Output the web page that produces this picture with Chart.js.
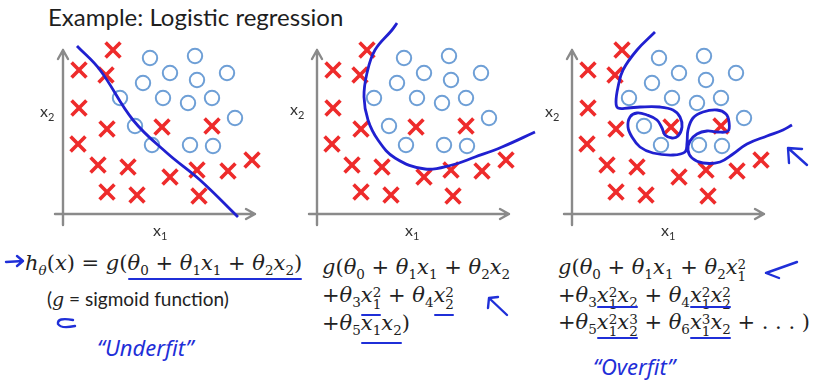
<!DOCTYPE html>
<html>
<head>
<meta charset="utf-8">
<script src="https://cdn.jsdelivr.net/npm/chart.js@4.4.1/dist/chart.umd.min.js"></script>
<style>
  html,body{margin:0;padding:0;background:#fff;}
  #root{position:relative;width:825px;height:386px;overflow:hidden;background:#fff;}
  canvas{position:absolute;}
  .t{position:absolute;white-space:nowrap;}
  .title{font-family:Lato,"Open Sans",sans-serif;font-size:24px;color:#1e1e1e;left:48px;top:2px;}
  .ax{font-family:Lato,"Open Sans",sans-serif;font-size:16px;color:#333;line-height:16px;}
  .ax sub{font-size:11px;vertical-align:-4px;line-height:0;}
  .m{font-family:"DejaVu Serif","Liberation Serif",serif;font-size:21px;color:#222;line-height:28px;}
  .m i{font-style:italic;}
  .m sub{font-size:13.5px;vertical-align:-5px;line-height:0;}
  .ss{display:inline-block;font-size:13.5px;line-height:12px;vertical-align:-7px;text-align:left;}
  .ss span{display:block;}
  .ul{position:relative;}
  .ul::after{content:"";position:absolute;left:0;right:0;bottom:-9px;height:2.4px;background:#1f2fd8;border-radius:2px;}
  .ul.u1::after{bottom:-5px;}
  .ul.u3a::after{bottom:-1px;}
  .ul.u3b::after{bottom:-5px;}
  .sans{font-family:Lato,"Open Sans",sans-serif;font-size:19px;color:#222;}
  .ink{font-family:"Noto Sans","DejaVu Sans",sans-serif;font-style:italic;color:#1f2fd8;font-size:22px;}
  svg{position:absolute;left:0;top:0;}
</style>
</head>
<body>
<div id="root">
  <div class="t title">Example: Logistic regression</div>

  <canvas id="c1" width="250" height="220" style="left:43px;top:14px;width:250px;height:220px"></canvas>
  <canvas id="c2" width="250" height="220" style="left:297px;top:14px;width:250px;height:220px"></canvas>
  <canvas id="c3" width="250" height="220" style="left:552px;top:14px;width:250px;height:220px"></canvas>

  <div class="t ax" style="left:40px;top:103px">x<sub>2</sub></div>
  <div class="t ax" style="left:153px;top:222px">x<sub>1</sub></div>
  <div class="t ax" style="left:290px;top:101px">x<sub>2</sub></div>
  <div class="t ax" style="left:405px;top:222px">x<sub>1</sub></div>
  <div class="t ax" style="left:545px;top:103px">x<sub>2</sub></div>
  <div class="t ax" style="left:661px;top:222px">x<sub>1</sub></div>

  <!-- panel 1 formula -->
  <div class="t m" style="left:25px;top:249px"><i>h</i><sub><i>θ</i></sub>(<i>x</i>) = <i>g</i>(<span class="ul u1"><i>θ</i><sub>0</sub> + <i>θ</i><sub>1</sub><i>x</i><sub>1</sub> + <i>θ</i><sub>2</sub><i>x</i><sub>2</sub>)</span></div>
  <div class="t sans" style="left:47px;top:287px">(<span class="m" style="font-style:italic;line-height:19px;font-size:19px">g</span> = sigmoid function)</div>
  <div class="t ink" style="left:97px;top:332px">“Underfit”</div>

  <!-- panel 2 formula -->
  <div class="t m" style="left:322px;top:253px"><i>g</i>(<i>θ</i><sub>0</sub> + <i>θ</i><sub>1</sub><i>x</i><sub>1</sub> + <i>θ</i><sub>2</sub><i>x</i><sub>2</sub></div>
  <div class="t m" style="left:322px;top:281px">+<i>θ</i><sub>3</sub><span class="ul"><i>x</i><span class="ss"><span>2</span><span>1</span></span></span> + <i>θ</i><sub>4</sub><span class="ul"><i>x</i><span class="ss"><span>2</span><span>2</span></span></span></div>
  <div class="t m" style="left:322px;top:309px">+<i>θ</i><sub>5</sub><span class="ul"><i>x</i><sub>1</sub><i>x</i><sub>2</sub></span>)</div>

  <!-- panel 3 formula -->
  <div class="t m" style="left:558px;top:253px"><i>g</i>(<i>θ</i><sub>0</sub> + <i>θ</i><sub>1</sub><i>x</i><sub>1</sub> + <i>θ</i><sub>2</sub><i>x</i><span class="ss"><span>2</span><span>1</span></span></div>
  <div class="t m" style="left:558px;top:281px">+<i>θ</i><sub>3</sub><span class="ul u3a"><i>x</i><span class="ss"><span>2</span><span>1</span></span><i>x</i><sub>2</sub></span> + <i>θ</i><sub>4</sub><span class="ul u3a"><i>x</i><span class="ss"><span>2</span><span>1</span></span><i>x</i><span class="ss"><span>2</span><span>2</span></span></span></div>
  <div class="t m" style="left:558px;top:308px">+<i>θ</i><sub>5</sub><span class="ul u3b"><i>x</i><span class="ss"><span>2</span><span>1</span></span><i>x</i><span class="ss"><span>3</span><span>2</span></span></span> + <i>θ</i><sub>6</sub><span class="ul u3b"><i>x</i><span class="ss"><span>3</span><span>1</span></span><i>x</i><sub>2</sub></span> + . . . )</div>
  <div class="t ink" style="left:593px;top:351px">“Overfit”</div>

  <svg width="825" height="386" viewBox="0 0 825 386" fill="none" stroke="#1f2fd8" stroke-width="2.4" stroke-linecap="round" stroke-linejoin="round">
    <path d="M6 262 L23 261 M17 256 L23 261 L17 266"/>
    <path d="M73 320 Q57 317 58 324 Q61 329 75 326"/>
    <path d="M507 315 L489 298 M488 308 L489 298 L498 297"/>
    <path d="M797 262 L766 273 L779 278"/>
    <path d="M807 165 L788 148 L789 163 M788 148 L802 149"/>
  </svg>
</div>

<script>
// training examples (same data in all three panels)
const crossX = [50, 16, 43, 16, 44, 15, 99, 149, 35, 65, 107, 134, 165, 189, 44, 74, 136];
const crossY = [164, 144, 139, 106, 85, 70, 87, 88, 49, 47, 37, 44, 43, 54, 22, 19, 18];
const circleX = [87, 132, 107, 80, 134, 164, 57, 100, 125, 149, 172, 72, 89, 127, 150];
const circleY = [156, 158, 141, 131, 134, 141, 116, 116, 111, 116, 96, 88, 69, 69, 68];

// decision boundaries
const fit1X = [14, 37, 70, 104, 137, 175];
const fit1Y = [168, 144, 94, 61, 34, -3];
const fit2X = [80, 75, 58, 50, 47, 51, 61, 78, 108, 135, 158, 185, 218];
const fit2Y = [191, 184, 164, 141, 117, 94, 74, 56, 45, 49, 57, 67, 82];
const fit3X = [83, 65, 51, 46, 44, 46, 56, 68, 88, 101, 108, 110, 106, 100, 93, 90, 85, 75, 65, 58, 56, 60, 68, 81, 101, 113, 115, 116, 121, 131, 145, 154, 157, 156, 145, 135, 125, 118, 116, 120, 131, 148, 161, 175, 195, 211, 220];
const fit3Y = [182, 164, 144, 127, 112, 106, 106, 107, 107, 104, 97, 87, 78, 76, 79, 86, 94, 99, 101, 97, 87, 77, 67, 61, 59, 62, 71, 84, 96, 102, 104, 100, 92, 83, 82, 83, 80, 73, 64, 56, 51, 52, 60, 70, 78, 84, 89];

// axis extents
const axisX = [-8, 192];
const axisY = [-11, 164];

const zip = (xs, ys) => xs.map((x, i) => ({x, y: ys[i]}));

const arrowAxes = {
  id: 'arrowAxes',
  beforeDatasetsDraw(chart) {
    const {ctx, scales: {x, y}} = chart;
    const ox = x.getPixelForValue(0), oy = y.getPixelForValue(0);
    const xl = x.getPixelForValue(axisX[0]), xr = x.getPixelForValue(axisX[1]);
    const yb = y.getPixelForValue(axisY[0]), yt = y.getPixelForValue(axisY[1]);
    ctx.save();
    ctx.strokeStyle = '#8a8a8a';
    ctx.lineWidth = 2.4;
    ctx.lineCap = 'round';
    ctx.lineJoin = 'round';
    ctx.beginPath();
    ctx.moveTo(xl, oy); ctx.lineTo(xr, oy);
    ctx.moveTo(ox, yb); ctx.lineTo(ox, yt);
    ctx.moveTo(xr - 9, oy - 5); ctx.lineTo(xr, oy); ctx.lineTo(xr - 9, oy + 5);
    ctx.moveTo(ox - 5, yt + 9); ctx.lineTo(ox, yt); ctx.lineTo(ox + 5, yt + 9);
    ctx.stroke();
    ctx.restore();
  }
};

function makePanel(id, fx, fy) {
  new Chart(document.getElementById(id), {
    type: 'scatter',
    data: {
      datasets: [
        {
          data: zip(fx, fy), showLine: true, pointRadius: 0,
          borderColor: '#2020d0', borderWidth: 2.8, tension: 0.4, fill: false
        },
        {
          data: zip(crossX, crossY), pointStyle: 'crossRot', pointRadius: 10.5,
          borderColor: '#ee2b2b', borderWidth: 3.6, backgroundColor: '#ee2b2b'
        },
        {
          data: zip(circleX, circleY), pointStyle: 'circle', pointRadius: 7.2,
          borderColor: '#6e9fd6', borderWidth: 2, backgroundColor: 'rgba(255,255,255,0)'
        }
      ]
    },
    options: {
      responsive: false, animation: false, events: [],
      layout: {padding: 0, autoPadding: false},
      plugins: {legend: {display: false}, tooltip: {enabled: false}},
      elements: {line: {capBezierPoints: false}},
      scales: {
        x: {type: 'linear', display: false, min: -20, max: 230},
        y: {type: 'linear', display: false, min: -20, max: 200}
      }
    },
    plugins: [arrowAxes]
  });
}

makePanel('c1', fit1X, fit1Y);
makePanel('c2', fit2X, fit2Y);
makePanel('c3', fit3X, fit3Y);
</script>
</body>
</html>
